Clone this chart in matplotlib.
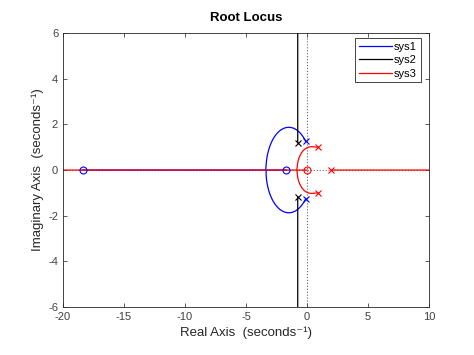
import itertools
import numpy as np
import matplotlib
matplotlib.use("Agg")
import matplotlib.pyplot as plt

plt.rcParams['font.family'] = ['Liberation Sans', 'DejaVu Sans']
plt.rcParams['axes.unicode_minus'] = False

# ---- data ----
names = ['sys1', 'sys2', 'sys3']
colors = ['#0000ff', '#000000', '#ff0000']
sys1_poles = [-0.1 + 1.25j, -0.1 - 1.25j]
sys1_zeros = [-1.7, -18.4]
sys1_sign = 1.0
sys2_poles = [-0.76 + 1.2j, -0.76 - 1.2j]
sys2_zeros = []
sys2_sign = 1.0
sys3_poles = [0.9 + 1.0j, 0.9 - 1.0j, 2.0]
sys3_zeros = [0.0]
sys3_sign = -1.0
xlim = (-20, 10)
ylim = (-6, 6)
xticks = [-20, -15, -10, -5, 0, 5, 10]
yticks = [-6, -4, -2, 0, 2, 4, 6]

systems = [(sys1_poles, sys1_zeros, sys1_sign),
           (sys2_poles, sys2_zeros, sys2_sign),
           (sys3_poles, sys3_zeros, sys3_sign)]

gains = np.concatenate([[0.0], np.logspace(-4, 5, 4000)])


def locus(poles, zeros, sign):
    den = np.real(np.poly(poles))
    num = np.real(np.poly(zeros)) if len(zeros) else np.array([1.0])
    num = np.concatenate([np.zeros(len(den) - len(num)), num]) * sign
    prev = np.roots(den)
    n = len(prev)
    out = [prev]
    for k in gains[1:]:
        r = np.roots(den + k * num)
        if len(r) < n:
            r = np.concatenate([r, np.full(n - len(r), np.nan)])
        best = None
        bestd = np.inf
        for perm in itertools.permutations(range(n)):
            cand = r[list(perm)]
            d = np.nansum(np.abs(cand - prev))
            if d < bestd:
                bestd = d
                best = cand
        out.append(best)
        prev = best
    return np.array(out)


fig = plt.figure(figsize=(4.74, 3.55), dpi=100)
ax = fig.add_axes([0.133, 0.135, 0.772, 0.772])

ax.axhline(0, color='0.4', ls=':', lw=0.8, zorder=1)
ax.axvline(0, color='0.4', ls=':', lw=0.8, zorder=1)

handles = []
for (poles, zeros, sign), c, nm in zip(systems, colors, names):
    R = locus(poles, zeros, sign)
    for b in range(R.shape[1]):
        h, = ax.plot(R[:, b].real, R[:, b].imag, color=c, lw=0.9, zorder=2)
    handles.append(h)
    ax.plot(np.real(poles), np.imag(poles), 'x', color=c, ms=4, mew=0.8, zorder=3)
    if len(zeros):
        ax.plot(np.real(zeros), np.imag(zeros), 'o', mfc='none', mec=c, ms=5, mew=0.8, zorder=3)

ax.set_xlim(*xlim)
ax.set_ylim(*ylim)
ax.set_xticks(xticks)
ax.set_yticks(yticks)
ax.tick_params(direction='in', top=True, right=True, labelsize=8,
               colors='#404040', length=3, width=0.6)
for s in ax.spines.values():
    s.set_color('#262626')
    s.set_linewidth(0.6)

ax.set_xlabel('Real Axis  (seconds\u207b\u00b9)', fontsize=9.5, color='#262626', labelpad=3)
ax.set_ylabel('Imaginary Axis  (seconds\u207b\u00b9)', fontsize=9.5, color='#262626', labelpad=3)
ax.set_title('Root Locus', fontsize=9.5, fontweight='bold', color='#000000', pad=9)

leg = ax.legend(handles, names, loc='upper right', fontsize=8, frameon=True,
                fancybox=False, edgecolor='#262626', framealpha=1,
                bbox_to_anchor=(0.978, 0.982),
                borderaxespad=0.0, handlelength=3.0, handletextpad=0.2,
                borderpad=0.35, labelspacing=0.3)
leg.get_frame().set_linewidth(0.6)

fig.savefig('out.png', dpi=100)
